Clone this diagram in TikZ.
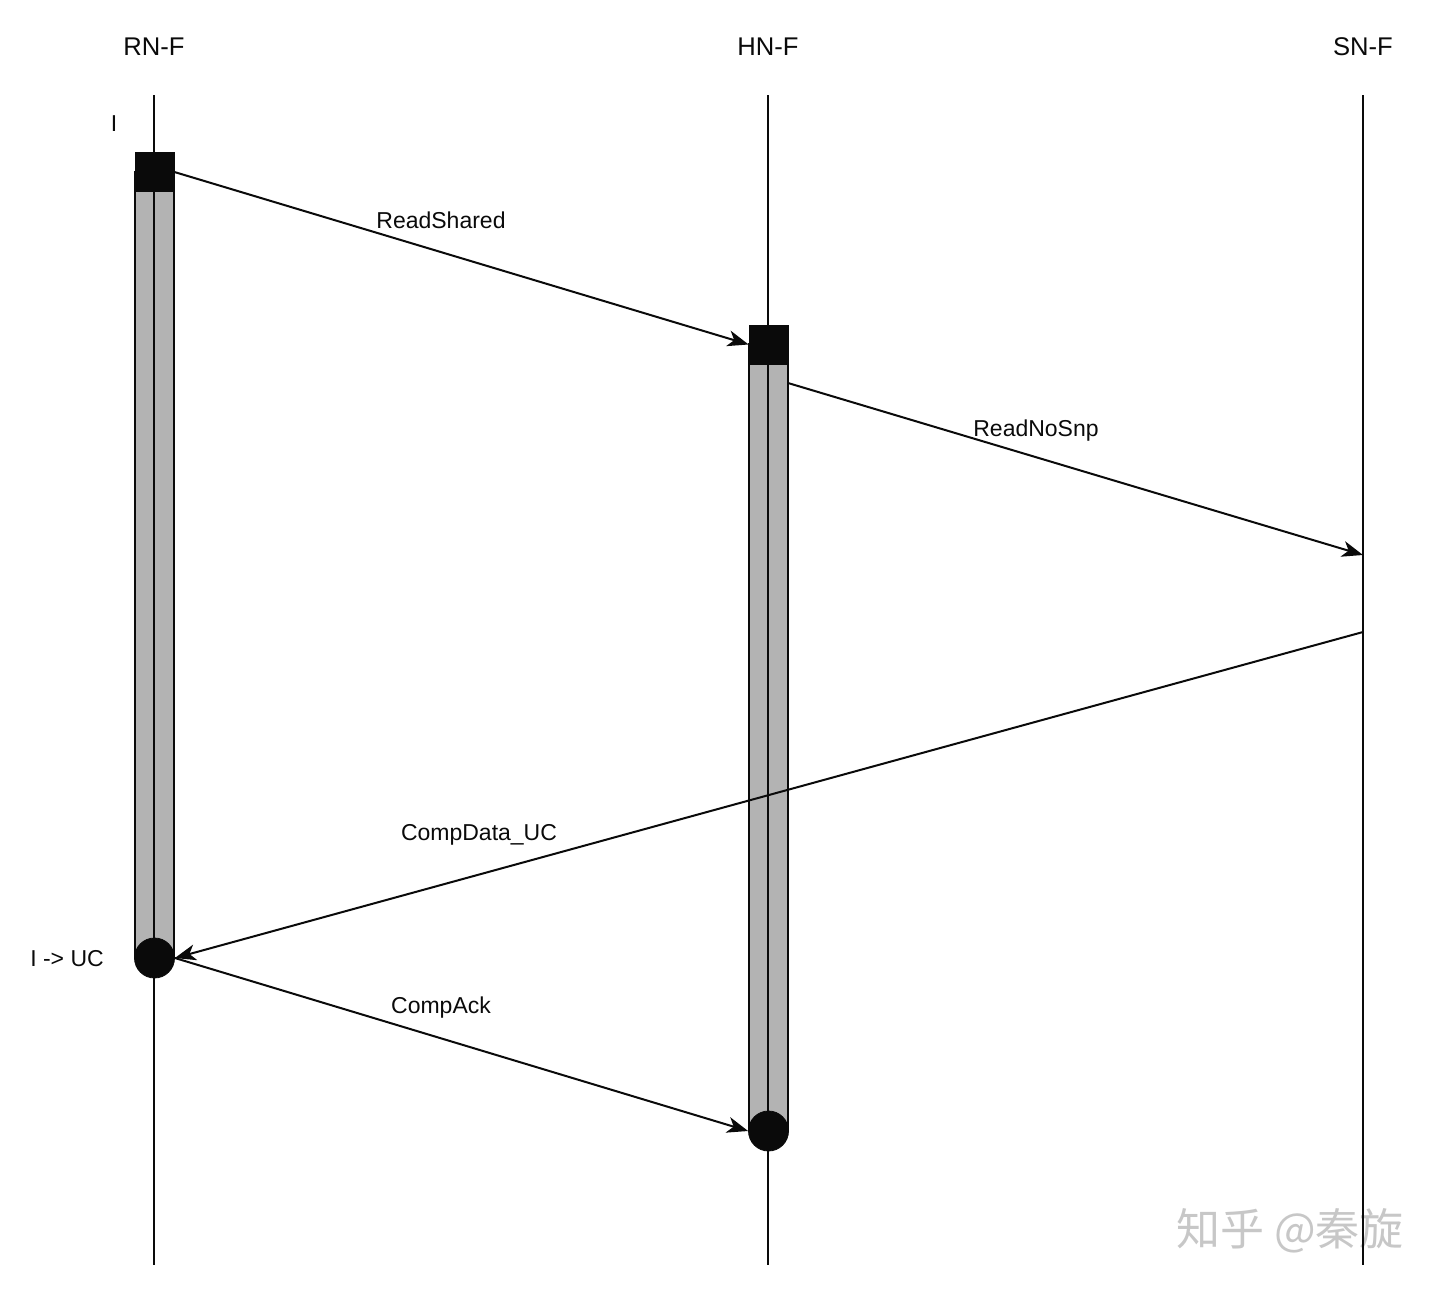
\documentclass[tikz,border=0pt]{standalone}
\usepackage{fontspec}
\setmainfont{Liberation Sans}
\newfontfamily\cjkfont{Noto Sans CJK SC}
\usetikzlibrary{arrows.meta}
\definecolor{bargray}{HTML}{B3B3B3}
\definecolor{ink}{HTML}{0A0A0A}
\tikzset{
  life/.style={draw=ink, line width=1pt},
  actbar/.style={draw=ink, fill=bargray, line width=1pt},
  blocksq/.style={draw=ink, fill=ink, minimum size=19.5pt, inner sep=0pt},
  endcirc/.style={circle, draw=ink, fill=ink, minimum size=20pt, inner sep=0pt},
  msg/.style={draw=ink, line width=1pt, -{Stealth[length=10.5pt, width=8pt, inset=3pt]}},
  title/.style={font=\fontsize{12.8}{15}\selectfont, text=ink},
  lbl/.style={font=\fontsize{11.5}{13}\selectfont, text=ink},
}
\begin{document}
\begin{tikzpicture}[x=0.5pt, y=-0.5pt]
\useasboundingbox (0,0) rectangle (1440,1290);
% watermark
\node[font=\cjkfont\fontsize{22}{25}\selectfont, text=black!22] (wm) at (1290,1231) {知乎 @秦旋};
% titles
\node[title] (trn) at (154,47) {RN-F};
\node[title] (thn) at (768,47) {HN-F};
\node[title] (tsn) at (1363,47) {SN-F};
% lifeline ends
\coordinate (rntop) at (154,95);
\coordinate (rnbot) at (154,1265);
\coordinate (hntop) at (768,95);
\coordinate (hnbot) at (768,1265);
\coordinate (sntop) at (1363,95);
\coordinate (snbot) at (1363,1265);
% activation bars
\draw[actbar] (135,172) rectangle (174,958);
\draw[actbar] (749,344) rectangle (788,1131);
% lifelines
\draw[life] (rntop) -- (rnbot);
\draw[life] (hntop) -- (hnbot);
\draw[life] (sntop) -- (snbot);
% block squares and end circles
\node[blocksq] (rnsq) at (154.5,172) {};
\node[blocksq] (hnsq) at (768.5,344.5) {};
\node[endcirc] (rnc) at (154.5,958) {};
\node[endcirc] (hnc) at (768.5,1131) {};
% state labels
\node[lbl] (sI) at (114,124) {I};
\node[lbl] (sIUC) at (67,959) {I -> UC};
% message end points
\coordinate (rnsout) at (788,383);
\coordinate (snin) at (1363,555);
\coordinate (snout) at (1363,632);
% messages
\draw[msg] (rnsq.east) -- (hnsq.west);
\draw[msg] (rnsout) -- (snin);
\draw[msg] (snout) -- (rnc.east);
\draw[msg] (rnc.east) -- (hnc.west);
% message labels
\node[lbl] (lrs) at (441,220) {ReadShared};
\node[lbl] (lrn) at (1036,431) {ReadNoSnp};
\node[lbl] (lcd) at (479,835) {CompData\_UC};
\node[lbl] (lca) at (441,1008) {CompAck};
\end{tikzpicture}
\end{document}
